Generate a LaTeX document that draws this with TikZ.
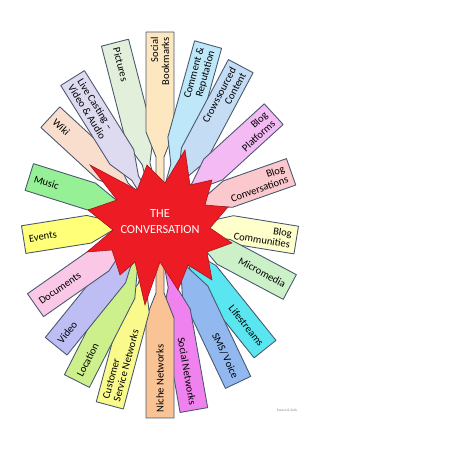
\documentclass[tikz,border=0pt]{standalone}
\usepackage{fontspec}
\setmainfont{Carlito}
\usepackage{xcolor}
\usetikzlibrary{calc}
\definecolor{edge}{RGB}{72,88,110}
\definecolor{burst}{RGB}{237,28,36}
\definecolor{pictures}{RGB}{226,239,218}
\definecolor{bookmarks}{RGB}{253,231,192}
\definecolor{comment}{RGB}{190,232,250}
\definecolor{crowd}{RGB}{196,220,244}
\definecolor{blogplat}{RGB}{244,186,244}
\definecolor{blogconv}{RGB}{250,200,205}
\definecolor{blogcomm}{RGB}{255,255,204}
\definecolor{micro}{RGB}{204,240,200}
\definecolor{life}{RGB}{90,230,240}
\definecolor{sms}{RGB}{145,185,240}
\definecolor{socialnet}{RGB}{240,130,240}
\definecolor{niche}{RGB}{250,195,150}
\definecolor{custserv}{RGB}{250,250,140}
\definecolor{location}{RGB}{205,240,140}
\definecolor{video}{RGB}{190,190,245}
\definecolor{docs}{RGB}{250,200,230}
\definecolor{events}{RGB}{255,255,120}
\definecolor{music}{RGB}{150,240,150}
\definecolor{wiki}{RGB}{250,222,205}
\definecolor{livecast}{RGB}{222,218,240}

\tikzset{
  petal/.style={draw=edge, line width=0.75pt, line join=round},
  petaltext/.style={inner sep=1pt, font=\fontsize{9}{9.5}\selectfont, text=black}
}

% petal, text read outward: name, angle, radius, colour, text
\newcommand{\petalR}[5]{%
  \pgfmathsetmacro{\rone}{max(#3-100,72)}%
  \pgfmathsetmacro{\rtwo}{\rone-25}%
  \begin{scope}[shift={(hub)}, rotate=#2]
    \draw[petal, fill=#4] (30,-4) -- (\rtwo,-4) -- (\rone,-14) -- (#3,-14)
      -- (#3,14) -- (\rone,14) -- (\rtwo,4) -- (30,4) -- cycle;
    \node[petaltext, rotate=#2, anchor=east, align=right] (#1) at (#3-4,0) {#5};
  \end{scope}}

% petal, text read inward
\newcommand{\petalL}[5]{%
  \pgfmathsetmacro{\rone}{max(#3-100,72)}%
  \pgfmathsetmacro{\rtwo}{\rone-25}%
  \begin{scope}[shift={(hub)}, rotate=#2]
    \draw[petal, fill=#4] (30,-4) -- (\rtwo,-4) -- (\rone,-14) -- (#3,-14)
      -- (#3,14) -- (\rone,14) -- (\rtwo,4) -- (30,4) -- cycle;
    \node[petaltext, rotate=#2+180, anchor=west, align=left] (#1) at (#3-4,0) {#5};
  \end{scope}}

\begin{document}
\begin{tikzpicture}[x=0.03cm, y=0.03cm]
\useasboundingbox (0,0) rectangle (452,452);
\coordinate (hub) at (160,234);

% top half
\petalL{pictures}{104.4}{181}{pictures}{Pictures}
\petalR{bookmarks}{90}{186}{bookmarks}{Social\\Bookmarks}
\petalR{comment}{74.5}{180}{comment}{Comment \&\\Reputation}
\petalR{crowd}{62}{172}{crowd}{Crowssourced\\Content}
\petalR{blogplat}{42.4}{154}{blogplat}{Blog\\Platforms}
\petalR{blogconv}{19.4}{139}{blogconv}{Blog\\Conversations}
\petalR{blogcomm}{-9.2}{138}{blogcomm}{Blog\\Communities}
\petalR{micro}{-28}{147}{micro}{Micromedia}
\petalR{life}{-51.3}{168}{life}{Lifestreams}
\petalR{sms}{-64.6}{182}{sms}{SMS/ Voice}
\petalR{socialnet}{-80}{195}{socialnet}{Social Networks}

% bottom half
\petalL{niche}{-90}{200}{niche}{Niche Networks}
\petalL{custserv}{-105}{194}{custserv}{Customer\\Service Networks}
\petalL{location}{-117}{183}{location}{Location}
\petalL{video}{-129}{165}{video}{Video}
\petalL{docs}{-145}{152}{docs}{Documents}
\petalL{events}{-171}{138}{events}{Events}
\petalL{music}{162.6}{137}{music}{Music}
\petalL{wiki}{137.4}{149}{wiki}{Wiki}
\petalL{livecast}{122}{165}{livecast}{Live Casting --\\Video \& Audio}

% the burst
\draw[fill=burst, draw=burst!70!black, line width=0.5pt, line join=miter]
  (90,287) -- (137,262) -- (147,287) -- (165,269) -- (185,302) -- (190,267)
  -- (212,272) -- (205,247) -- (228,245) -- (210,224) -- (232,209) -- (207,200)
  -- (212,172) -- (188,187) -- (178,162) -- (160,190) -- (145,147) -- (135,190)
  -- (120,177) -- (112,202) -- (87,200) -- (113,222) -- (88,242) -- (117,252) -- cycle;
\node[text=white, align=center, font=\fontsize{10.5}{13.5}\selectfont] (title) at (160,230) {THE\\CONVERSATION};

\node[text=gray, font=\fontsize{3}{3}\selectfont] (source) at (287,42) {Source \& Solis};
\end{tikzpicture}
\end{document}
